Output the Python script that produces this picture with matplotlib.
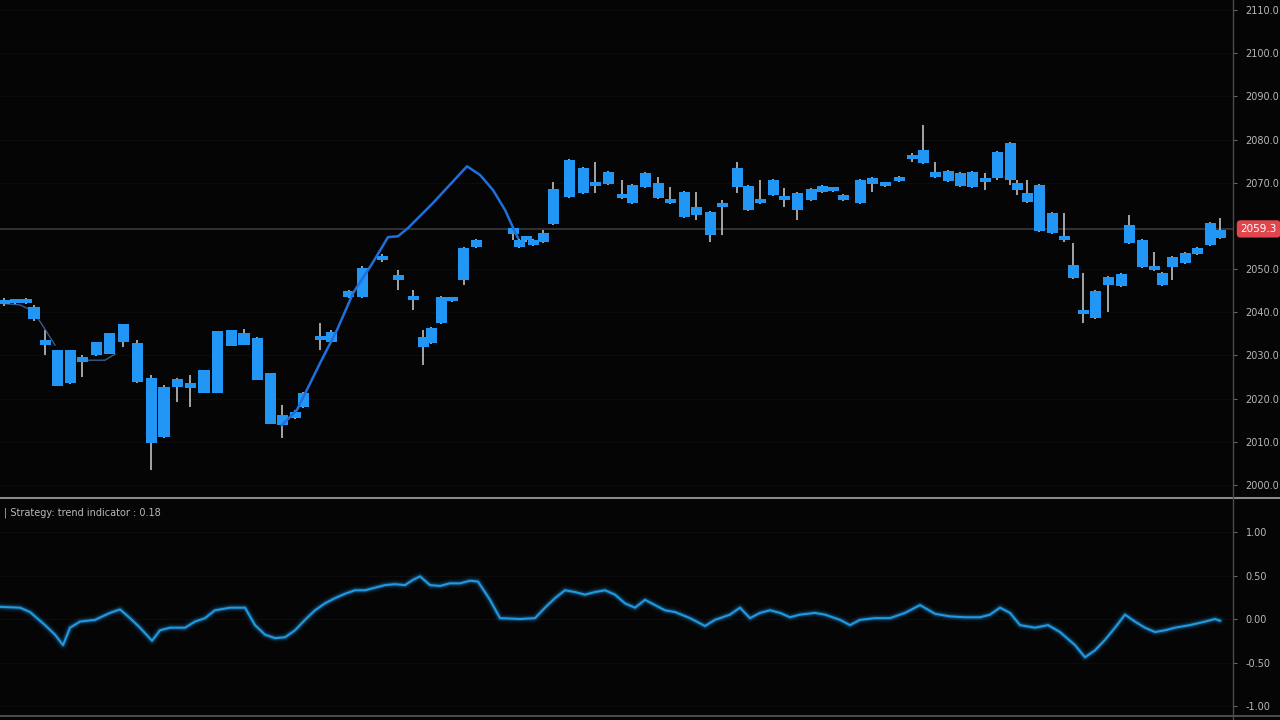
import matplotlib.pyplot as plt
from matplotlib.lines import Line2D

# candle data (bar time, price)
t = [0.4, 1.5, 2.6, 3.4, 4.5, 5.7, 7.0, 8.2, 9.6, 10.9,
     12.3, 13.7, 15.1, 16.4, 17.7, 19.0, 20.4, 21.7, 23.1, 24.4,
     25.7, 27.0, 28.2, 29.5, 30.3, 32.0, 33.1, 34.9, 36.2, 38.2,
     39.8, 41.3, 42.3, 43.1, 44.1, 45.2, 46.4, 47.6, 51.3, 51.9,
     52.6, 53.3, 54.3, 55.3, 56.9, 58.3, 59.5, 60.8, 62.2, 63.2,
     64.5, 65.8, 67.0, 68.4, 69.6, 71.0, 72.2, 73.7, 74.8, 76.0,
     77.3, 78.4, 79.7, 81.1, 82.2, 83.3, 84.3, 86.0, 87.2, 88.5,
     89.9, 91.2, 92.3, 93.5, 94.8, 96.0, 97.2, 98.5, 99.7, 101.0,
     101.7, 102.7, 103.9, 105.2, 106.4, 107.3, 108.3, 109.5, 110.8, 112.1,
     112.9, 114.2, 115.4, 116.2, 117.2, 118.5, 119.7, 121.0, 122.0]
opens = [2041.9, 2042.1, 2042.1, 2038.4, 2032.4, 2022.9, 2023.6, 2028.5, 2030.1, 2030.3,
         2033.1, 2023.8, 2009.7, 2011.1, 2022.7, 2022.5, 2021.3, 2021.3, 2032.2, 2032.4,
         2024.3, 2014.1, 2013.9, 2015.5, 2018.1, 2033.6, 2033.1, 2043.5, 2043.5, 2052.1,
         2047.5, 2042.8, 2031.9, 2032.9, 2037.5, 2042.6, 2047.5, 2055.1, 2058.1, 2055.1,
         2056.7, 2055.6, 2056.3, 2060.4, 2066.7, 2067.6, 2069.2, 2069.7, 2066.4, 2065.3,
         2069.0, 2066.4, 2065.3, 2062.0, 2062.5, 2057.9, 2064.4, 2069.0, 2063.7, 2065.3,
         2067.1, 2066.0, 2063.7, 2066.0, 2067.8, 2068.1, 2066.0, 2065.3, 2069.7, 2069.2,
         2070.4, 2075.5, 2074.5, 2071.3, 2070.4, 2069.2, 2069.0, 2070.1, 2071.1, 2070.6,
         2068.3, 2065.5, 2058.8, 2058.3, 2056.7, 2047.9, 2039.6, 2038.7, 2046.3, 2046.1,
         2056.0, 2050.5, 2049.8, 2046.3, 2050.5, 2051.4, 2053.5, 2055.6, 2057.2]
highs = [2043.3, 2042.6, 2043.3, 2041.7, 2035.9, 2031.3, 2031.3, 2030.1, 2033.1, 2035.2,
         2037.3, 2033.6, 2025.5, 2023.2, 2024.8, 2025.5, 2026.6, 2035.7, 2035.9, 2036.1,
         2034.3, 2025.9, 2018.5, 2017.4, 2021.5, 2037.5, 2035.9, 2045.1, 2050.7, 2053.5,
         2049.8, 2045.1, 2035.9, 2036.6, 2043.8, 2043.3, 2055.1, 2056.9, 2060.0, 2056.9,
         2057.6, 2056.9, 2059.0, 2070.1, 2075.5, 2073.6, 2074.8, 2072.7, 2070.6, 2069.7,
         2072.5, 2071.3, 2069.0, 2068.1, 2067.8, 2063.4, 2066.0, 2074.8, 2069.5, 2070.6,
         2070.8, 2068.8, 2067.8, 2068.8, 2069.5, 2068.8, 2067.4, 2070.8, 2071.3, 2070.1,
         2071.6, 2076.9, 2083.3, 2074.8, 2072.9, 2072.5, 2072.7, 2072.2, 2077.3, 2079.4,
         2070.6, 2070.6, 2069.7, 2063.2, 2063.0, 2056.0, 2049.1, 2045.1, 2048.4, 2049.1,
         2062.5, 2056.9, 2053.9, 2049.3, 2053.0, 2053.9, 2055.1, 2060.9, 2061.8]
lows = [2041.4, 2041.9, 2041.9, 2038.0, 2030.1, 2022.9, 2023.4, 2025.0, 2029.9, 2030.3,
        2031.9, 2023.6, 2003.5, 2010.9, 2019.2, 2018.1, 2021.3, 2021.3, 2032.2, 2032.4,
        2024.3, 2014.1, 2010.9, 2015.3, 2017.8, 2031.3, 2032.9, 2043.3, 2043.3, 2051.6,
        2045.1, 2040.5, 2027.8, 2032.6, 2037.3, 2042.4, 2046.3, 2054.9, 2056.7, 2054.9,
        2056.3, 2055.4, 2056.0, 2060.2, 2066.4, 2067.4, 2067.6, 2069.5, 2066.2, 2065.1,
        2068.8, 2066.2, 2065.1, 2061.8, 2061.3, 2056.3, 2057.9, 2067.6, 2063.4, 2065.1,
        2066.9, 2064.4, 2061.3, 2065.7, 2067.6, 2067.8, 2065.7, 2065.1, 2067.8, 2069.0,
        2070.1, 2074.8, 2074.3, 2071.1, 2070.1, 2069.0, 2068.8, 2068.3, 2070.6, 2069.5,
        2067.1, 2065.3, 2058.6, 2058.1, 2056.3, 2047.7, 2037.5, 2038.4, 2040.0, 2045.8,
        2055.8, 2050.2, 2049.5, 2046.1, 2047.5, 2051.2, 2053.2, 2055.4, 2056.9]
closes = [2042.8, 2042.6, 2043.1, 2041.2, 2033.6, 2031.3, 2031.3, 2029.6, 2033.1, 2035.2,
          2037.3, 2032.9, 2024.8, 2022.7, 2024.5, 2023.6, 2026.6, 2035.7, 2035.9, 2035.2,
          2034.0, 2025.9, 2016.2, 2016.9, 2021.3, 2034.5, 2035.4, 2044.9, 2050.2, 2053.0,
          2048.6, 2043.5, 2034.3, 2036.3, 2043.5, 2043.1, 2054.9, 2056.7, 2059.5, 2056.7,
          2057.4, 2056.7, 2058.3, 2068.5, 2075.2, 2073.4, 2069.9, 2072.5, 2067.4, 2069.5,
          2072.2, 2069.9, 2066.0, 2067.8, 2064.4, 2063.2, 2064.8, 2073.4, 2069.2, 2066.0,
          2070.6, 2066.7, 2067.6, 2068.5, 2069.2, 2068.5, 2067.1, 2070.6, 2071.1, 2069.9,
          2071.3, 2076.4, 2077.6, 2072.5, 2072.7, 2072.2, 2072.5, 2071.1, 2077.1, 2079.2,
          2069.9, 2067.6, 2069.5, 2063.0, 2057.6, 2050.9, 2040.5, 2044.9, 2048.2, 2048.8,
          2060.2, 2056.7, 2050.7, 2049.1, 2052.8, 2053.7, 2054.9, 2060.7, 2059.0]

# overlay trend line
trend_t = [28.2, 29.7, 32.0, 33.7, 35.3, 37.3, 38.8, 39.8, 40.8, 43.3, 46.7, 48.0, 49.3, 50.5, 51.5, 51.8]
trend_p = [2013.9, 2017.4, 2028.2, 2035.9, 2044.4, 2051.6, 2057.4, 2057.6, 2059.5, 2065.3,
           2073.8, 2071.8, 2068.3, 2063.7, 2058.6, 2057.2]

# faint moving average pieces
ma1_t = [0.0, 2.0, 3.3, 4.3, 5.5]
ma1_p = [2042.1, 2041.7, 2040.3, 2036.8, 2032.4]
ma2_t = [8.2, 10.5, 11.5]
ma2_p = [2028.9, 2028.9, 2030.3]

last_price = 2059.3
price_ticks = [2000, 2010, 2020, 2030, 2040, 2050, 2070, 2080, 2090, 2100, 2110]

# oscillator
osc_t = [0, 2, 3, 4.5, 5.5, 6.3, 7, 8, 9.5, 11, 12, 13, 14, 15.2, 16, 17, 18.5, 19.5, 20.5, 21.5,
         23, 24.5, 25.5, 26.5, 27.5, 28.5, 29.5, 30.5, 31.5, 32.5, 33.5, 34.5, 35.5, 36.5, 37.5, 38.5,
         39.5, 40.5, 41.3, 42, 43, 44, 45, 46, 47, 47.8, 49, 50, 52, 53.5, 54.5, 55.5, 56.5, 57.5,
         58.5, 59.5, 60.5, 61.5, 62.5, 63.5, 64.5, 65.5, 66.5, 67.5, 69, 70.5, 71.5, 73, 74, 75,
         76, 77, 78, 79, 80, 81.5, 82.5, 84, 85, 86, 87.5, 89, 90.5, 92, 93.5, 95, 96.5, 98, 99,
         100, 101, 102, 103.5, 104.8, 106, 107.5, 108.5, 109.5, 110.5, 111.5, 112.5, 113.5, 114.5,
         115.5, 116.5, 117.5, 119, 120.5, 121.5, 122]
osc_v = [0.14, 0.13, 0.08, -0.07, -0.18, -0.30, -0.10, -0.03, -0.01, 0.07, 0.11, 0.01, -0.10, -0.25,
         -0.13, -0.10, -0.10, -0.03, 0.01, 0.10, 0.13, 0.13, -0.07, -0.18, -0.22, -0.21, -0.13, -0.01,
         0.10, 0.18, 0.24, 0.29, 0.33, 0.33, 0.36, 0.39, 0.40, 0.39, 0.45, 0.49, 0.39, 0.38, 0.41,
         0.41, 0.44, 0.43, 0.22, 0.01, 0.00, 0.01, 0.13, 0.24, 0.33, 0.31, 0.28, 0.31, 0.33, 0.28,
         0.18, 0.13, 0.22, 0.16, 0.10, 0.08, 0.01, -0.08, -0.01, 0.05, 0.13, 0.01, 0.07, 0.10, 0.07,
         0.02, 0.05, 0.07, 0.05, -0.01, -0.07, -0.01, 0.01, 0.01, 0.07, 0.16, 0.06, 0.03, 0.02, 0.02,
         0.05, 0.13, 0.07, -0.07, -0.10, -0.07, -0.15, -0.30, -0.44, -0.36, -0.24, -0.10, 0.05, -0.03,
         -0.10, -0.15, -0.13, -0.10, -0.07, -0.03, 0.00, -0.02]
osc_ticks = [1.0, 0.5, 0.0, -0.5, -1.0]
osc_title = "| Strategy: trend indicator : 0.18"

bg = "#050505"
blue = "#2196f5"
wick = "#d0d0d0"
txt = "#b8b8b8"

fig = plt.figure(figsize=(12.8, 7.2), dpi=100, facecolor=bg)
ax = fig.add_axes([0, 1 - 498 / 720, 1233 / 1280, 498 / 720])
ax2 = fig.add_axes([0, 4 / 720, 1233 / 1280, 216 / 720])

for a in (ax, ax2):
    a.set_facecolor(bg)
    for s in a.spines.values():
        s.set_visible(False)
    a.yaxis.tick_right()
    a.tick_params(axis="y", colors="#666666", labelcolor=txt, labelsize=7, length=3, pad=6)
    a.tick_params(axis="x", bottom=False, labelbottom=False)
    a.grid(True, axis="y", color="#0c0c0c", lw=0.8)

# candles
for i in range(len(t)):
    o, h, l, c = opens[i], highs[i], lows[i], closes[i]
    col = blue if c >= o else "#e0464b"
    ax.vlines(t[i], l, h, color=wick, lw=1.1, zorder=2)
    lo = min(o, c)
    hgt = max(abs(c - o), 1.0)
    ax.bar(t[i], hgt, width=1.1, bottom=lo, color=col, zorder=3, linewidth=0)

ax.plot(ma1_t, ma1_p, color="#4a6fa8", lw=1.0, alpha=0.8, zorder=2)
ax.plot(ma2_t, ma2_p, color="#4a6fa8", lw=1.0, alpha=0.8, zorder=2)
ax.plot(trend_t, trend_p, color="#1f6fdc", lw=1.8, zorder=4)

ax.axhline(last_price, color="#363636", lw=1.3, zorder=1)
ax.set_xlim(0, 123.3)
ax.set_ylim(1997.0, 2112.3)
ax.set_yticks(price_ticks)
ax.set_yticklabels([f"{v:.1f}" for v in price_ticks])
ax.annotate(f"{last_price:.1f}", xy=(1.006, last_price), xycoords=("axes fraction", "data"),
            va="center", ha="left", color="white", fontsize=7.5, annotation_clip=False,
            bbox=dict(boxstyle="round,pad=0.35", fc="#e0464b", ec="none"))

# oscillator panel with glow
for lw, al in [(7, 0.06), (4.5, 0.12), (3, 0.22)]:
    ax2.plot(osc_t, osc_v, color="#1e9be8", lw=lw, alpha=al, solid_capstyle="round")
ax2.plot(osc_t, osc_v, color="#2298e0", lw=1.5)
ax2.set_xlim(0, 123.3)
ax2.set_ylim(-1.115, 1.368)
ax2.set_yticks(osc_ticks)
ax2.set_yticklabels([f"{v:.2f}" for v in osc_ticks])
ax2.text(0.003, 0.94, osc_title, transform=ax2.transAxes, color=txt, fontsize=7, va="center")

# frame lines
fig.add_artist(Line2D([0, 1], [1 - 498 / 720, 1 - 498 / 720], color="#8a8a8a", lw=1.5))
fig.add_artist(Line2D([0, 1], [4 / 720, 4 / 720], color="#5a5a5a", lw=1.2))
fig.add_artist(Line2D([1233 / 1280, 1233 / 1280], [0, 1], color="#4a4a4a", lw=1.0))

fig.savefig("out.png", dpi=100, facecolor=bg)
